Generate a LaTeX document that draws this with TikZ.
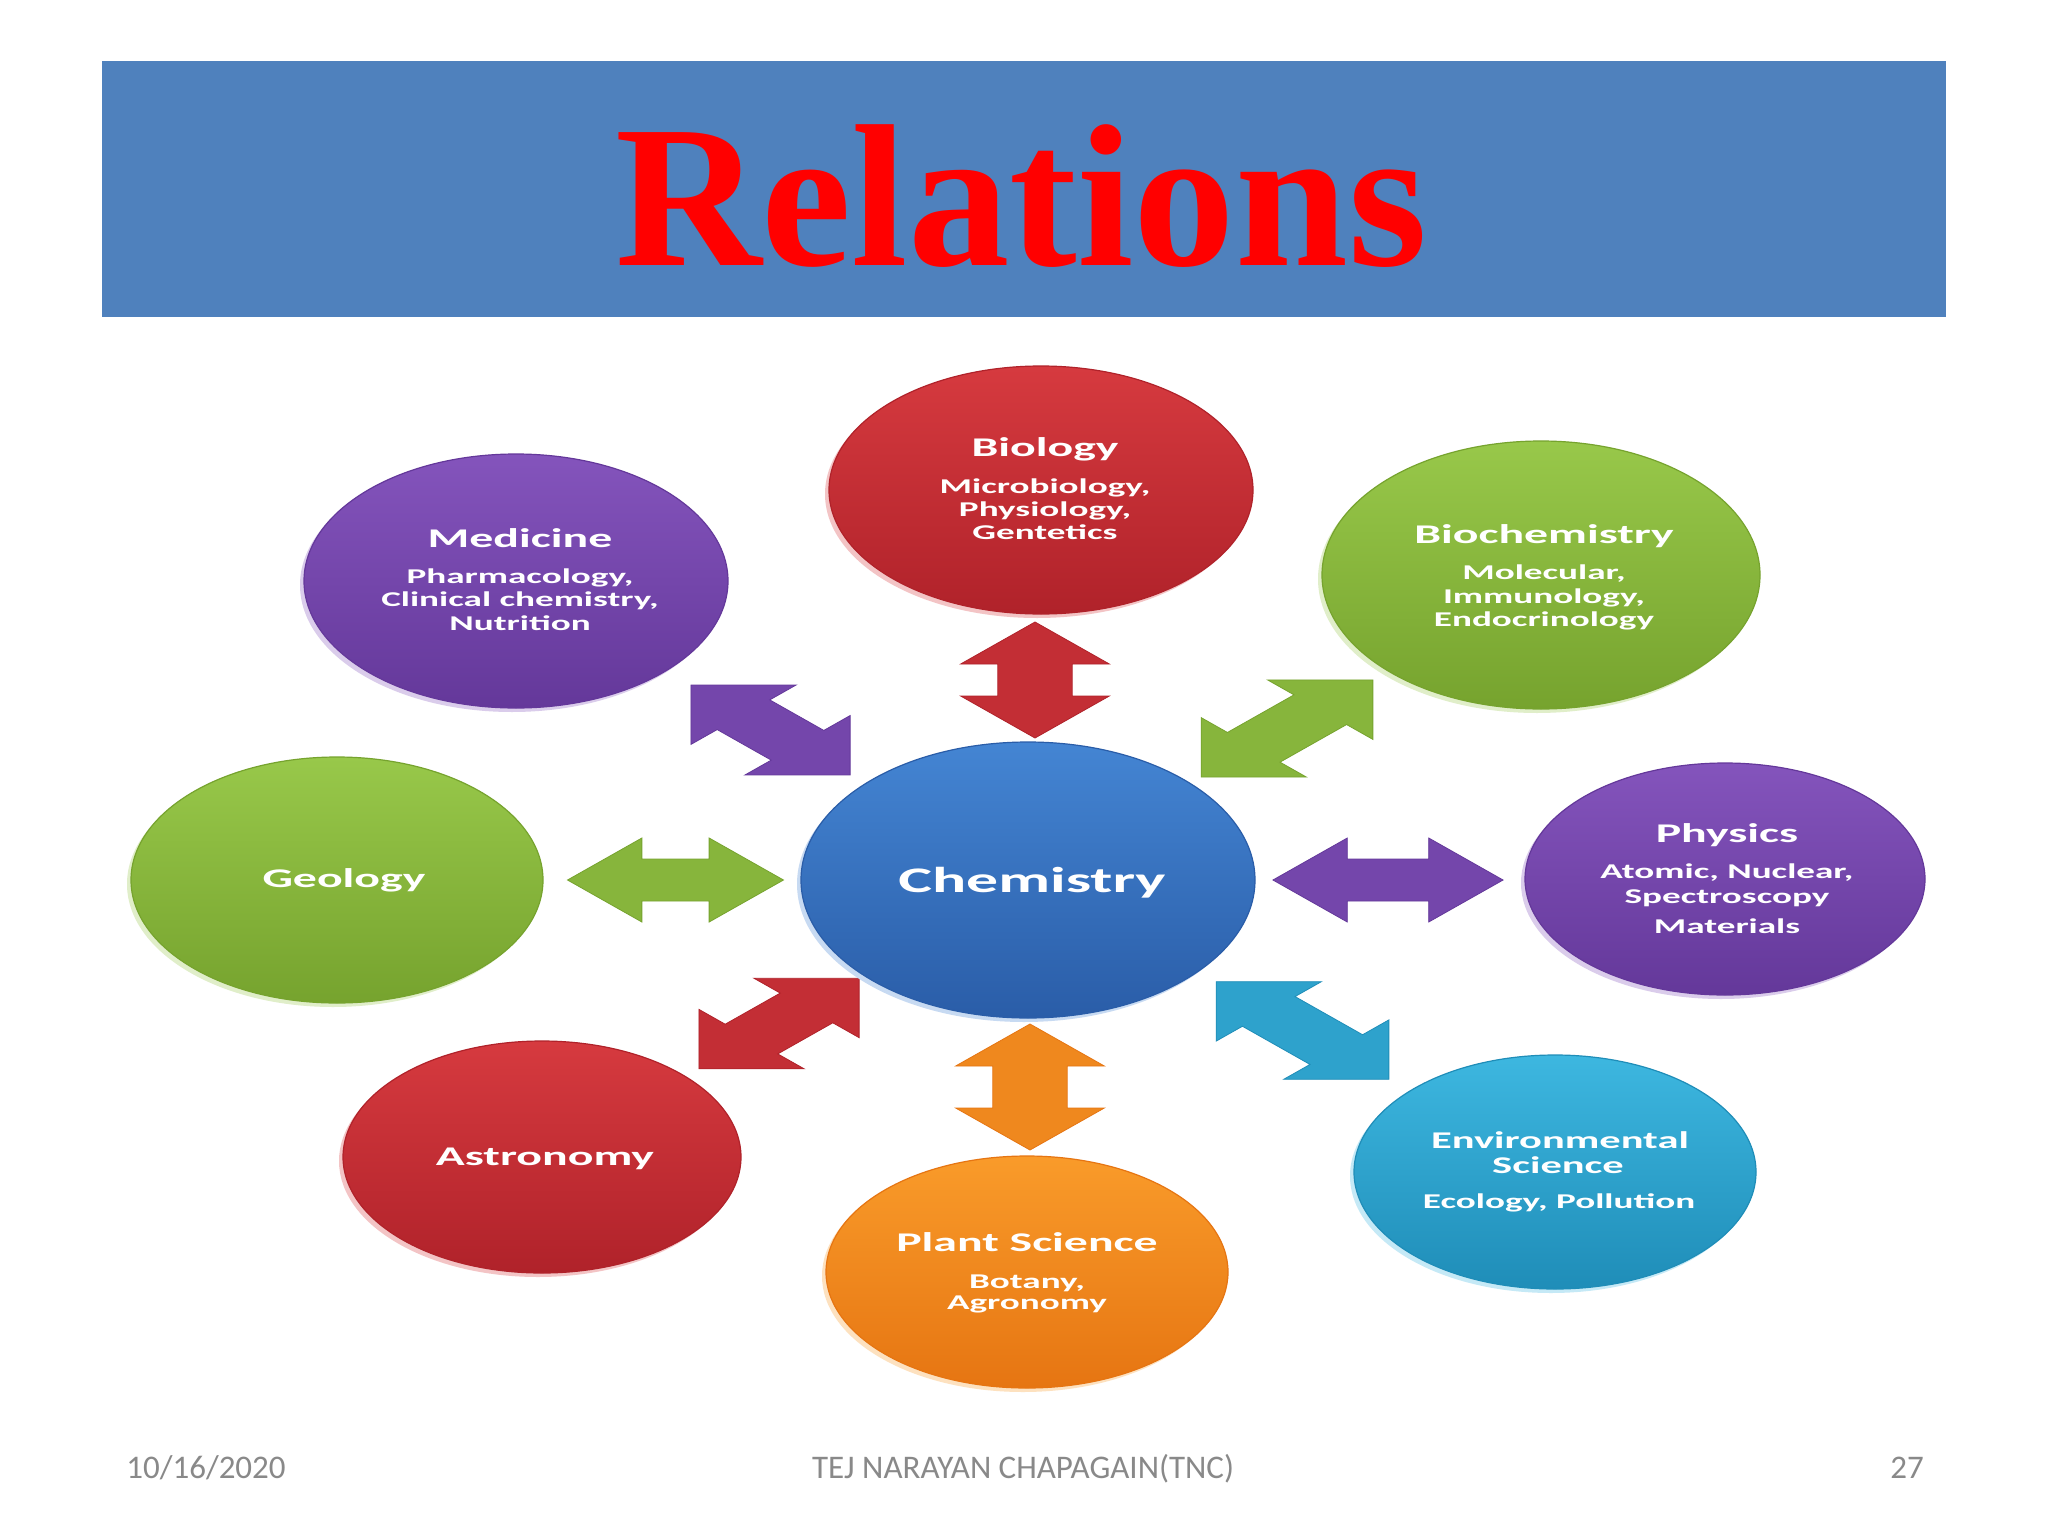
\documentclass[tikz,border=0pt]{standalone}
\usepackage{graphicx}
\usepackage{fontspec}
\setmainfont{Carlito}
\newfontfamily\titlefont{Liberation Serif}
\usetikzlibrary{shapes.geometric}

\definecolor{band}{HTML}{4F81BD}
\definecolor{titlered}{HTML}{FF0000}
\definecolor{footgray}{HTML}{898989}
\definecolor{redLt}{HTML}{D63A3F}\definecolor{redDk}{HTML}{B0222A}
\definecolor{purLt}{HTML}{8454BC}\definecolor{purDk}{HTML}{64389A}
\definecolor{grnLt}{HTML}{98C84A}\definecolor{grnDk}{HTML}{76A32E}
\definecolor{bluLt}{HTML}{4485D3}\definecolor{bluDk}{HTML}{2A5DA8}
\definecolor{orgLt}{HTML}{F99B2A}\definecolor{orgDk}{HTML}{E67512}
\definecolor{cyaLt}{HTML}{3DB7E0}\definecolor{cyaDk}{HTML}{1F8DB8}

\tikzset{
  lbl/.style={text=white, anchor=base, inner sep=0pt, font=\bfseries\fontsize{#1}{#1}\selectfont},
  foot/.style={text=footgray, anchor=base, inner sep=0pt, font=\fontsize{33}{40}\selectfont},
  ballshape/.style={ellipse, inner sep=0pt},
}

% name, x, y, rx, ry, colour prefix
\newcommand\ball[6]{%
  \fill[#6Lt!30!white] (#2-4,#3+4) ellipse [x radius=#4, y radius=#5];
  \node[ballshape, minimum width={2*#4pt}, minimum height={2*#5pt},
        top color=#6Lt, bottom color=#6Dk, draw=#6Dk, line width=1.2pt] (#1) at (#2,#3) {};
}
% name, x, y, size, text
\newcommand\lbl[5]{%
  \node[lbl=#4] (#1) at (#2,#3) {\scalebox{1.77}[1]{#5}};
}
% name, cx, cy, angle, half length, colour prefix
\newcommand\barrow[6]{%
  \begin{scope}[xscale=1.77]
  \begin{scope}[shift={(#2/1.77,#3)}, rotate=#4]
    \path[fill=#6Lt!50!#6Dk, draw=#6Dk, line width=0.8pt]
      (-#5,0) -- (-#5+42,42) -- (-#5+42,21) -- (#5-42,21) -- (#5-42,42) -- (#5,0)
      -- (#5-42,-42) -- (#5-42,-21) -- (-#5+42,-21) -- (-#5+42,-42) -- cycle;
    \coordinate (#1) at (0,0);
  \end{scope}
  \end{scope}
}

\begin{document}
\begin{tikzpicture}[x=1pt,y=-1pt]
\useasboundingbox (0,0) rectangle (2048,1536);
\fill[white] (0,0) rectangle (2048,1536);

% title band
\fill[band] (102,61) rectangle (1946,317);
\node[anchor=base, inner sep=0pt, text=titlered,
      font=\titlefont\bfseries\fontsize{203}{203}\selectfont] (title) at (1021,265) {Relations};

% arrows
\barrow{abio}{1035}{680}{90}{58}{red}
\barrow{aplant}{1030}{1087}{90}{63}{org}
\barrow{ageo}{675.5}{880}{0}{61}{grn}
\barrow{aphy}{1388}{880}{0}{65}{pur}
\barrow{amed}{770.5}{730}{-45}{63.6}{pur}
\barrow{abioc}{1287}{728.5}{45}{68.6}{grn}
\barrow{aast}{779}{1023.5}{45}{64}{red}
\barrow{aenv}{1302.5}{1030.5}{-45}{69}{cya}

% balls
\ball{bio}{1041}{490}{212}{124}{red}
\ball{med}{516}{581}{212}{127}{pur}
\ball{bioc}{1541}{575}{219}{134}{grn}
\ball{geo}{337}{880}{206}{123}{grn}
\ball{chem}{1028}{880}{227}{138}{blu}
\ball{phy}{1725}{879}{200}{116}{pur}
\ball{ast}{542}{1157}{199}{116}{red}
\ball{plant}{1027}{1272}{201}{116}{org}
\ball{env}{1555}{1172}{201}{117}{cya}

% labels
\lbl{tbio}{1045}{456}{27}{Biology}
\lbl{sbio1}{1045}{493}{21}{Microbiology,}
\lbl{sbio2}{1045}{516}{21}{Physiology,}
\lbl{sbio3}{1045}{539}{21}{Gentetics}

\lbl{tmed}{520}{547}{27}{Medicine}
\lbl{smed1}{520}{583}{21}{Pharmacology,}
\lbl{smed2}{520}{606}{21}{Clinical chemistry,}
\lbl{smed3}{520}{630}{21}{Nutrition}

\lbl{tbioc}{1544}{543}{27}{Biochemistry}
\lbl{sbioc1}{1544}{579}{21}{Molecular,}
\lbl{sbioc2}{1544}{603}{21}{Immunology,}
\lbl{sbioc3}{1544}{626}{21}{Endocrinology}

\lbl{tgeo}{344}{887}{27}{Geology}
\lbl{tchem}{1032}{892}{36}{Chemistry}

\lbl{tphy}{1727}{842}{27}{Physics}
\lbl{sphy1}{1727}{878}{21}{Atomic, Nuclear,}
\lbl{sphy2}{1727}{903}{21}{Spectroscopy}
\lbl{sphy3}{1727}{933}{21}{Materials}

\lbl{tast}{545}{1165}{27}{Astronomy}

\lbl{tplant}{1027}{1251}{27}{Plant Science}
\lbl{splant1}{1027}{1288}{21}{Botany,}
\lbl{splant2}{1027}{1309}{21}{Agronomy}

\lbl{tenv1}{1560}{1148}{24}{Environmental}
\lbl{tenv2}{1558}{1173}{24}{Science}
\lbl{senv}{1559}{1208}{21}{Ecology, Pollution}

% footer
\node[foot] (date) at (206,1478) {10/16/2020};
\node[foot] (author) at (1023,1478) {TEJ NARAYAN CHAPAGAIN(TNC)};
\node[foot] (page) at (1907,1478) {27};
\end{tikzpicture}
\end{document}
